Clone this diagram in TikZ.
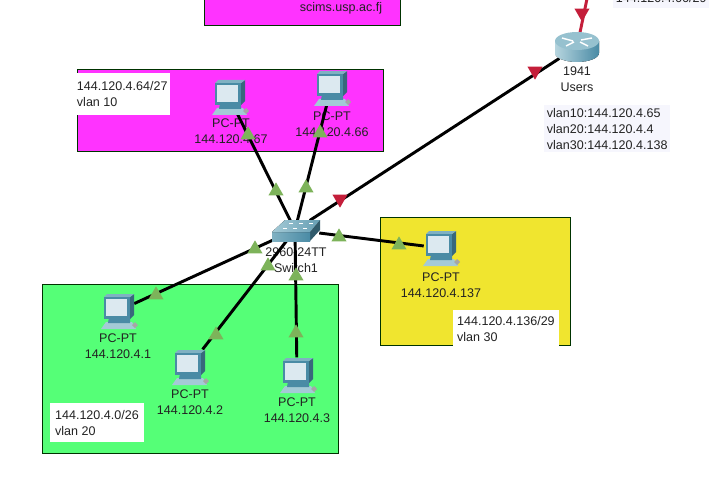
\documentclass[tikz,border=0pt]{standalone}
\usepackage{fontspec}
\setmainfont{Liberation Sans}
\usetikzlibrary{shapes.geometric}

\definecolor{zonepink}{HTML}{FF33FF}
\definecolor{zonegreen}{HTML}{55FF77}
\definecolor{zoneyellow}{HTML}{F0E52F}
\definecolor{notetint}{HTML}{F6F6FD}
\definecolor{uptri}{HTML}{7DB35A}
\definecolor{downtri}{HTML}{C41E3A}
\definecolor{inkgray}{HTML}{222222}
\definecolor{tealdark}{HTML}{4A8BA5}
\definecolor{teallight}{HTML}{A4CAD6}
\definecolor{screenblue}{HTML}{DCE9F0}

\tikzset{
  zone/.style={draw=black!80!green,line width=0.6pt},
  labeltext/.style={text=inkgray,font=\fontsize{9.4}{12}\selectfont,align=center,inner sep=0pt},
  notetext/.style={labeltext,align=left,anchor=north west,inner sep=2pt},
  link/.style={line width=2.2pt,black},
  redlink/.style={line width=2.2pt,downtri},
  devnode/.style={minimum width=24pt,minimum height=26pt,inner sep=0pt},
  trigreen/.style={regular polygon,regular polygon sides=3,fill=uptri,minimum size=13pt,inner sep=0pt},
  trired/.style={regular polygon,regular polygon sides=3,shape border rotate=180,fill=downtri,minimum size=13pt,inner sep=0pt},
  pcicon/.pic={
    % keyboard and base
    \fill[teallight] (-17,18) -- (-12,11) -- (14,11) -- (18,18) -- cycle;
    \fill[tealdark] (-9,6) -- (12,6) -- (12,12) -- (-10,12) -- cycle;
    \fill[black!35] (14,14) -- (17,11) -- (20,14) -- (17,17) -- cycle;
    % monitor
    \fill[tealdark!75!black] (12,-14) -- (16,-17) -- (16,4) -- (12,8) -- cycle;
    \fill[teallight!60!tealdark] (-14,-14) -- (-11,-17) -- (16,-17) -- (12,-14) -- cycle;
    \fill[tealdark] (-14,-14) rectangle (12,8);
    \fill[screenblue] (-12,-12) rectangle (9,5);
  },
  switchicon/.pic={
    \fill[tealdark!65!black] (15,2) -- (25,-10) -- (25,0) -- (15,11) -- cycle;
    \fill[left color=teallight!60!tealdark,right color=tealdark] (-23,2) -- (15,2) -- (15,11) -- (-23,11) -- cycle;
    \fill[left color=teallight,right color=tealdark!70!teallight] (-23,2) -- (-10,-10) -- (25,-10) -- (15,2) -- cycle;
    \foreach \dotx in {-6,4,14} \fill[white] (\dotx,-7) rectangle +(4,1);
    \foreach \dotx in {-12,-2,8} \fill[white] (\dotx,-2) rectangle +(4,1);
  },
  routericon/.pic={
    \fill[left color=teallight!80!white,right color=tealdark] (-22,-6) -- (-22,6) arc[start angle=180,end angle=0,x radius=22,y radius=9] -- (22,-6) -- cycle;
    \fill[teallight!85!tealdark] (0,-6) ellipse[x radius=22,y radius=9];
    \draw[white,line width=1.1pt] (-15,-9) -- (-4,-6) (15,-9) -- (4,-7) (-11,-1) -- (-3,-5) (11,-1) -- (3,-5);
  }
}

\begin{document}
\begin{tikzpicture}[x=0.75pt,y=-0.75pt]
  \useasboundingbox[fill=white] (0,0) rectangle (711,492);

  % Draw subnet areas
  \draw[zone,fill=zonepink] (204,-10) rectangle (400,25);
  \draw[zone,fill=zonepink] (77,69) rectangle (383,151);
  \draw[zone,fill=zonegreen] (42,284) rectangle (338,453);
  \draw[zone,fill=zoneyellow] (380,217) rectangle (570,345);

  % Notes
  \node[labeltext] (serverlabel) at (341,8) {scims.usp.ac.fj};
  \node[notetext,fill=white,minimum width=72pt,minimum height=31pt] (noteten) at (74,73) {144.120.4.64/27\\vlan 10};
  \node[notetext,fill=white,minimum width=70pt,minimum height=29pt] (notetwenty) at (50,403) {144.120.4.0/26\\vlan 20};
  \node[notetext,fill=white,minimum width=79pt,minimum height=28pt] (notethirty) at (453,310) {144.120.4.136/29\\vlan 30};
  \node[notetext,fill=notetint] (noterouter) at (544,105) {vlan10:144.120.4.65\\vlan20:144.120.4.4\\vlan30:144.120.4.138};
  \node[notetext,fill=notetint,anchor=south west,inner ysep=4pt] (notewan) at (613,8) {144.120.4.66/29};

  % Device positions
  \node[devnode] (pcsixtyseven) at (229,97) {};
  \node[devnode] (pcsixtysix) at (331,88) {};
  \node[devnode] (pcone) at (118,311) {};
  \node[devnode] (pctwo) at (189,367) {};
  \node[devnode] (pcthree) at (297,375) {};
  \node[devnode] (pcthirtyseven) at (440,248) {};
  \node[minimum width=36pt,minimum height=14pt,inner sep=0pt] (switchone) at (295,230) {};
  \node[minimum width=26pt,minimum height=20pt,inner sep=0pt] (routerusers) at (577,47) {};
  \coordinate (wan) at (588,-6);

  % Device labels
  \node[labeltext] (lblsixtyseven) at (231,131) {PC-PT\\144.120.4.67};
  \node[labeltext] (lblsixtysix) at (332,124) {PC-PT\\144.120.4.66};
  \node[labeltext] (lblone) at (118,346) {PC-PT\\144.120.4.1};
  \node[labeltext] (lbltwo) at (190,402) {PC-PT\\144.120.4.2};
  \node[labeltext] (lblthree) at (297,410) {PC-PT\\144.120.4.3};
  \node[labeltext] (lblthirtyseven) at (441,285) {PC-PT\\144.120.4.137};
  \node[labeltext] (lblswitch) at (296,260) {2960-24TT\\Switch1};
  \node[labeltext] (lblrouter) at (577,79) {1941\\Users};

  % Links
  \draw[link] (switchone) -- (pcsixtyseven);
  \draw[link] (switchone) -- (pcsixtysix);
  \draw[link] (switchone) -- (pcone);
  \draw[link] (switchone) -- (pctwo);
  \draw[link] (switchone) -- (pcthree);
  \draw[link] (switchone) -- (pcthirtyseven);
  \draw[link] (switchone) -- (routerusers);
  \draw[redlink] (routerusers) -- (wan);

  % Link state marks
  \node[trigreen] (markpa) at (248,135) {};
  \node[trigreen] (markpb) at (320,133) {};
  \node[trigreen] (marksa) at (276,191) {};
  \node[trigreen] (marksb) at (306,188) {};
  \node[trigreen] (marksc) at (255,249) {};
  \node[trigreen] (marksd) at (268,266) {};
  \node[trigreen] (markse) at (296,276) {};
  \node[trigreen] (marksf) at (339,237) {};
  \node[trigreen] (markpc) at (399,245) {};
  \node[trigreen] (markpd) at (156,295) {};
  \node[trigreen] (markpe) at (216,335) {};
  \node[trigreen] (markpf) at (296,333) {};
  \node[trired] (markra) at (340,199) {};
  \node[trired] (markrb) at (535,71) {};
  \node[trired] (markrc) at (582,13) {};

  % Device icons
  \pic at (pcsixtyseven) {pcicon};
  \pic at (pcsixtysix) {pcicon};
  \pic at (pcone) {pcicon};
  \pic at (pctwo) {pcicon};
  \pic at (pcthree) {pcicon};
  \pic at (pcthirtyseven) {pcicon};
  \pic at (switchone) {switchicon};
  \pic at (routerusers) {routericon};
\end{tikzpicture}
\end{document}
